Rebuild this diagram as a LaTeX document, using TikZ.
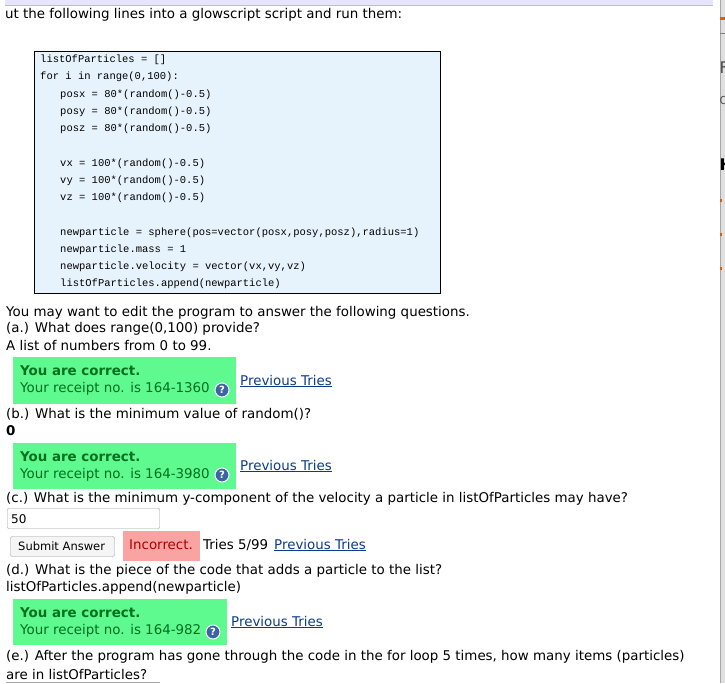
\documentclass[tikz,border=0pt]{standalone}
\usepackage{fontspec}
\setmainfont{DejaVu Sans}
\newfontfamily\codefont{Liberation Mono}
\definecolor{okgreen}{HTML}{5EF98F}
\definecolor{okdark}{HTML}{00701E}
\definecolor{linkc}{HTML}{0B3C8C}
\definecolor{codebg}{HTML}{E7F3FC}
\definecolor{badbg}{HTML}{F9A3A3}
\definecolor{badtx}{HTML}{B00000}
\definecolor{orng}{HTML}{D2620A}
\begin{document}
\begin{tikzpicture}[x=1pt,y=-1pt,
  txt/.style={anchor=west,inner sep=0pt,font=\fontsize{13.4}{15}\selectfont},
  btxt/.style={anchor=west,inner sep=0pt,font=\bfseries\fontsize{13.4}{15}\selectfont},
  code/.style={anchor=west,inner sep=0pt,font=\codefont\fontsize{10.5}{11}\selectfont},
  link/.style={txt,text=linkc},
  okbox/.style={fill=okgreen,draw=none},
  qicon/.style={circle,fill=linkc!80,draw=white,line width=1pt,inner sep=0pt,minimum size=14pt,text=white,font=\bfseries\fontsize{10}{10}\selectfont}]
\useasboundingbox (0,0) rectangle (725,683);
\fill[white] (0,0) rectangle (725,683);
% top band
\fill[blue!10] (5,0) rectangle (713,5);
\draw[gray!50] (5,5.5) -- (713,5.5);
% right strip
\fill[gray!25] (720,0) rectangle (725,683);
\draw[gray!70] (720,0) -- (720,683);
\fill[orng] (720,17) rectangle (725,20);
\draw[gray] (720,33) -- (725,33);
\begin{scope}
\clip (720,0) rectangle (725,683);
\node[txt,font=\fontsize{16}{16}\selectfont,text=black!70] (rf) at (719.5,68) {F};
\node[txt,font=\fontsize{11}{11}\selectfont,text=black!70] (rc) at (719.5,100) {C};
\node[txt,font=\bfseries\fontsize{16}{16}\selectfont] (rh) at (719.5,165) {H};
\end{scope}
\foreach \yy in {200,234,268} \fill[orng] (720,\yy-1.5) rectangle (722,\yy+1.5);
% intro
\node[txt] (intro) at (5,15) {ut the following lines into a glowscript script and run them:};
% code box
\draw[fill=codebg,line width=0.8pt] (34,51) rectangle (440,293);
\node[code] (c1) at (40,60) {listOfParticles = []};
\node[code] (c2) at (40,77) {for i in range(0,100):};
\node[code] (c3) at (60,95) {posx = 80*(random()-0.5)};
\node[code] (c4) at (60,112) {posy = 80*(random()-0.5)};
\node[code] (c5) at (60,129) {posz = 80*(random()-0.5)};
\node[code] (c6) at (60,164) {vx = 100*(random()-0.5)};
\node[code] (c7) at (60,181) {vy = 100*(random()-0.5)};
\node[code] (c8) at (60,198) {vz = 100*(random()-0.5)};
\node[code] (c9) at (60,233) {newparticle = sphere(pos=vector(posx,posy,posz),radius=1)};
\node[code] (c10) at (60,250) {newparticle.mass = 1};
\node[code] (c11) at (60,267) {newparticle.velocity = vector(vx,vy,vz)};
\node[code] (c12) at (60,284) {listOfParticles.append(newparticle)};
% text
\node[txt] (t1) at (6,313) {You may want to edit the program to answer the following questions.};
\node[txt] (t2) at (6,329) {(a.) What does range(0,100) provide?};
\node[txt] (t3) at (6,345) {A list of numbers from 0 to 99.};
% box a
\fill[okbox] (13,357) rectangle (236,404);
\node[btxt,text=okdark] (a1) at (20,371) {You are correct.};
\node[txt,text=okdark] (a2) at (20,389) {Your receipt no. is 164-1360};
\node[qicon] (aq) at (222,390) {?};
\node[link] (ap) at (240,381) {\underline{Previous Tries}};
\node[txt] (t4) at (6,414) {(b.) What is the minimum value of random()?};
\node[btxt] (t5) at (6,431) {0};
% box b
\fill[okbox] (13,443) rectangle (236,489);
\node[btxt,text=okdark] (b1) at (20,457) {You are correct.};
\node[txt,text=okdark] (b2) at (20,475) {Your receipt no. is 164-3980};
\node[qicon] (bq) at (222,475) {?};
\node[link] (bp) at (240,466) {\underline{Previous Tries}};
\node[txt] (t6) at (6,499) {(c.) What is the minimum y-component of the velocity a particle in listOfParticles may have?};
\draw[gray!80,rounded corners=1pt] (7.5,508.5) rectangle (159.5,528.5);
\node[txt,font=\fontsize{12}{13}\selectfont] (inp) at (11,519) {50};
\draw[gray!80,fill=gray!8,rounded corners=2pt] (10.5,536.5) rectangle (114.5,556.5);
\node[txt,font=\fontsize{11.5}{13}\selectfont] (sub) at (18,546.5) {Submit Answer};
\fill[badbg] (123,531) rectangle (200,561);
\node[txt,text=badtx] (inc) at (129,545) {Incorrect.};
\node[txt] (tr) at (203,545) {Tries 5/99};
\node[link] (cp) at (274,545) {\underline{Previous Tries}};
\node[txt] (t7) at (6,571) {(d.) What is the piece of the code that adds a particle to the list?};
\node[txt] (t8) at (6,588) {listOfParticles.append(newparticle)};
% box d
\fill[okbox] (13,599) rectangle (227,645);
\node[btxt,text=okdark] (d1) at (20,613) {You are correct.};
\node[txt,text=okdark] (d2) at (20,631) {Your receipt no. is 164-982};
\node[qicon] (dq) at (213,632) {?};
\node[link] (dp) at (231,622) {\underline{Previous Tries}};
\node[txt] (t9) at (6,657) {(e.) After the program has gone through the code in the for loop 5 times, how many items (particles)};
\node[txt] (t10) at (6,674) {are in listOfParticles?};
\draw[gray!70] (6,682.5) -- (160,682.5);
\end{tikzpicture}
\end{document}
